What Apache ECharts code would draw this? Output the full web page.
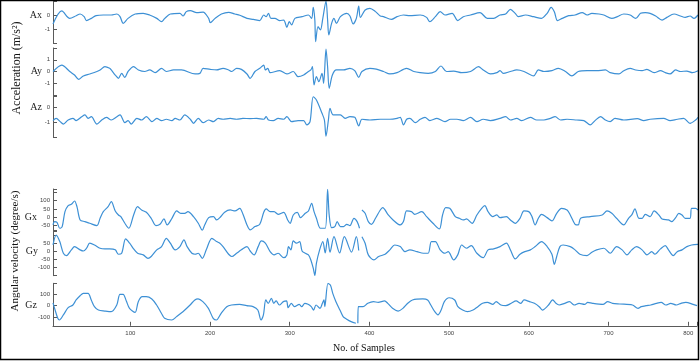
<!DOCTYPE html>
<html><head><meta charset="utf-8">
<script src="https://cdn.jsdelivr.net/npm/echarts@6/dist/echarts.min.js"></script>
<style>html,body{margin:0;padding:0;background:#fff}#c{width:700px;height:361px}</style>
</head><body><div id="c"></div>
<script>
// ---- data (sample index, value) ----
const sampleRange = [3, 811];
const xTickLabels = [100, 200, 300, 400, 500, 600, 700, 800];
const channelNames = ['Ax', 'Ay', 'Az', 'Gx', 'Gy', 'Gz'];
const yRanges = [[-2, 1], [-2, 2], [-2, 0.75], [-80, 170], [-150, 125], [-180, 200]];
const ySteps = [1, 1, 1, 50, 50, 100];
const yLabelled = [[0, -1], [1, 0, -1], [0, -1], [100, 50, 0, -50], [50, 0, -50, -100], [100, 0, -100]];

const ax = [[3,-0.64],[14,0.29],[24,-0.24],[32,-0.05],[37,0.07],[42,-0.12],[45,-0.4],[51,-0.24],[57,-0.05],[66,0],[76,0],[83,0.07],[87,-0.12],[91,-0.6],[97,-0.24],[106,0.07],[116,0.12],[124,0],[133,-0.24],[139,-0.48],[143,-0.24],[150,0.07],[162,0.12],[166,-0.07],[170,0.24],[175,0.31],[183,0.17],[191,0.21],[198,-0.24],[200,-0.55],[206,-0.24],[214,0.07],[223,0.19],[231,0.07],[237,-0.02],[246,-0.24],[254,-0.31],[262,-0.4],[267,0],[270,-0.12],[273,0.12],[276,-0.24],[281,-0.24],[287,-0.4],[292,-0.36],[296,-0.88],[299,-0.48],[302,-0.71],[306,-0.24],[315,-0.12],[323,0],[327,-0.24],[329,0.55],[331,-0.36],[332,-1.9],[335,-0.83],[338,-1.07],[341,-0.24],[345,1.0],[347,-0.36],[348.5,-1.43],[352,-0.6],[355,-0.24],[358,-0.6],[363,-0.12],[371,0.12],[375,-0.07],[379,-0.64],[383,-0.24],[386,0.64],[388,-0.17],[394,0.36],[400,0.48],[407,0.24],[413,-0.07],[417,-0.12],[427,-0.31],[434,-0.12],[442,0],[450,-0.05],[463,0],[471,-0.17],[475,-0.48],[482,-0.12],[488,0.24],[494,0],[503,0.12],[510,-0.4],[517,-0.12],[526,0],[538,0.17],[547,-0.24],[555,-0.24],[563,0],[570,0.07],[576,0.4],[582,0.12],[586,-0.12],[595,0],[605,-0.12],[615,-0.24],[622,0.12],[627,0.55],[631,0.24],[635,-0.4],[641,-0.24],[649,-0.05],[657,0],[666,0.17],[672,0],[678,0.12],[687,0.07],[693,0],[703,-0.24],[710,-0.12],[718,0.07],[726,0],[733,-0.24],[739,0.12],[745,0.17],[751,0.12],[758,-0.07],[766,-0.36],[772,-0.17],[781,0.07],[789,-0.07],[795,-0.17],[801,-0.07],[806,-0.24],[811,0]];

const ay = [[3,0],[14,0.55],[24,0],[30,-0.3],[35,-0.67],[41,-0.38],[49,-0.21],[58,0],[62,0.13],[68,0.41],[74,0.27],[76,0.13],[81,-0.3],[85,-0.58],[89,-0.16],[93,-0.5],[97,0],[104,0.41],[110,0.13],[118,0],[124,0.13],[131,-0.1],[139,0.27],[145,0],[154,0.13],[164,0.13],[181,-0.21],[187,-0.16],[191,0.27],[200,0.18],[208,0.13],[216,0.27],[223,0.13],[227,0],[233,0.27],[239,0.18],[246,-0.21],[250,-0.58],[256,0],[262,0.27],[267,0.55],[269,0.13],[272,0.27],[275,-0.1],[287,0.07],[296,-0.21],[304,0],[310,-0.44],[317,-0.3],[323,0],[326,0.13],[328,0.41],[330,-1.15],[333,-0.44],[336,-0.87],[340,-0.16],[342,-1.0],[345,1.9],[347,0.41],[349,-1.43],[353,-0.3],[358,0.13],[367,0.13],[375,0.27],[381,0.07],[386,-0.5],[390,0],[400,0.27],[408,0.2],[417,0],[425,-0.21],[434,-0.1],[442,0.18],[446,0.27],[455,0],[463,-0.1],[473,-0.16],[482,0],[489,0.47],[496,0],[505,0.04],[515,-0.1],[526,0],[536,0.41],[542,0.13],[551,-0.21],[559,-0.1],[563,0.07],[567,-0.16],[576,0],[584,0.13],[593,0],[605,-0.38],[611,0.13],[618,0],[628,0.07],[636,0.27],[645,0],[653,-0.38],[661,0],[672,0.07],[684,0.07],[695,0.13],[701,-0.1],[712,-0.21],[718,0.07],[726,0.27],[733,0.13],[741,0.07],[747,0.18],[756,-0.1],[764,0.07],[770,-0.1],[776,-0.21],[783,0.13],[789,0],[797,0.04],[804,-0.1],[811,0.07]];

const az = [[3,-0.9],[7,-0.75],[12,-0.97],[16,-1.13],[22,-0.86],[28,-0.75],[32,-0.9],[39,-0.64],[43,-0.52],[47,-0.75],[51,-0.64],[58,-1.13],[64,-0.86],[70,-0.68],[76,-0.86],[83,-0.64],[87,-0.52],[93,-1.04],[97,-0.9],[101,-1.13],[108,-0.75],[114,-0.86],[120,-0.64],[127,-0.97],[133,-0.75],[139,-0.9],[145,-0.81],[152,-0.9],[156,-0.75],[162,-0.86],[168,-0.52],[175,-0.81],[179,-1.08],[185,-0.75],[191,-1.04],[198,-0.86],[204,-0.97],[210,-0.75],[216,-0.81],[225,-0.75],[233,-0.81],[241,-0.75],[250,-0.77],[258,-0.75],[267,-0.81],[270,-0.64],[273,-0.86],[279,-0.9],[285,-0.75],[292,-0.81],[296,-0.64],[302,-0.97],[310,-0.9],[317,-0.9],[321,-1.19],[325,-0.97],[329,0.7],[333,0.48],[340,-0.41],[343,-0.86],[345,-1.95],[348,-0.86],[350,-0.08],[354,-0.52],[363,-0.52],[369,-0.75],[375,-0.64],[381,-0.68],[386,-1.26],[390,-0.81],[400,-0.86],[413,-0.81],[425,-0.81],[434,-0.75],[438,-0.68],[442,-1.19],[446,-0.81],[450,-0.75],[457,-1.04],[463,-0.81],[469,-0.68],[475,-0.9],[484,-0.75],[494,-0.97],[501,-0.81],[509,-0.81],[517,-0.9],[526,-0.68],[534,-0.97],[542,-0.81],[551,-0.9],[563,-0.75],[570,-0.64],[576,-0.86],[584,-0.75],[590,-0.9],[601,-0.68],[609,-0.86],[618,-0.86],[626,-0.75],[632,-0.64],[639,-0.86],[647,-0.81],[659,-0.86],[668,-0.9],[676,-1.19],[682,-0.9],[689,-0.64],[695,-0.86],[701,-0.97],[707,-0.75],[718,-0.86],[735,-0.77],[743,-0.9],[751,-0.81],[768,-0.75],[776,-0.9],[785,-0.81],[793,-0.75],[801,-1.08],[808,-0.86],[811,-0.68]];

const gx = [[3,-46],[5,-26],[8,-30],[11.5,-66],[14.5,-56],[18,34],[22,70],[26,78],[30,98],[33,64],[37,-16],[43,-26],[49,-36],[58,-50],[62,-6],[66,34],[72,64],[76,94],[81,38],[85,14],[88,4],[93,-36],[98,-66],[104,14],[109,64],[114,44],[120,30],[126,-6],[132,-50],[137,-42],[142,-10],[146,-46],[152,-6],[158,38],[163,24],[168,24],[172,34],[179,4],[185,-36],[190,-78],[193,-46],[198,-2],[204,4],[208,-16],[212,-2],[218,30],[225,44],[231,38],[237,54],[241,18],[246,-46],[250,-76],[256,-56],[262,-42],[267,30],[270,50],[275,34],[280,34],[285,18],[292,30],[297,-16],[300,-36],[304,14],[309,30],[313,-2],[319,24],[323,38],[327,84],[330,34],[333,-6],[338,-66],[344,-66],[347,168],[349,14],[352,-62],[356,-56],[359,-26],[363,-56],[367,-56],[371,-42],[375,-50],[380,-6],[384,-26],[387,-66],[388.5,null],[390,44],[394,24],[398,-26],[402,-42],[407,-6],[413,44],[416,58],[423,14],[429,-16],[438,-46],[442,-26],[446,38],[452,34],[456,18],[465,34],[471,4],[479,-36],[487,-70],[491,14],[495,58],[500,54],[507,4],[512,-6],[517,-16],[521,-10],[528,-36],[534,14],[540,54],[544,70],[548,34],[554,4],[559,14],[563,-2],[571,4],[576,-16],[582,-36],[588,-6],[593,38],[599,34],[603,4],[607,-46],[611,-6],[615,18],[622,-2],[628,-22],[634,24],[640,54],[647,44],[651,14],[657,-42],[661,-46],[664,-6],[676,4],[691,14],[697,38],[703,24],[709,-6],[718,-46],[724,-6],[728,14],[732,50],[737,-6],[741,-6],[745,18],[751,4],[756,38],[762,14],[766,-10],[774,-16],[778,-26],[783,-2],[787,24],[791,14],[795,-6],[801,-6],[803,54],[808,54],[811,44]];

const gy = [[3,39],[7,100],[11.5,60],[16,-12],[20,-26],[26,9],[30,29],[37,9],[41,2],[45,19],[49,50],[55,39],[62,19],[68,15],[74,15],[81,9],[85,-18],[89,-12],[94,76],[99,50],[104,15],[109,-12],[116,-22],[122,-43],[126,-32],[133,9],[139,29],[145,80],[150,50],[156,9],[162,29],[167,70],[171,29],[177,-12],[181,-18],[185,-12],[190,-43],[195,9],[202,80],[208,60],[212,50],[216,29],[223,-18],[227,-32],[233,-12],[239,9],[246,29],[250,2],[255,-22],[260,29],[264,64],[269,50],[275,-2],[280,-22],[285,-12],[292,-39],[296,-22],[298,29],[301,9],[304,64],[308,50],[312,60],[315,2],[319,-12],[323,-22],[326,-53],[329,-104],[331,-148],[333,-73],[337,9],[341,60],[344,-10],[347,80],[350,-5],[355,90],[362,-10],[368,90],[377,-5],[383,90],[386,5],[388,null],[390,90],[394,50],[398,-22],[405,-53],[411,-32],[419,-18],[425,9],[431,39],[438,29],[444,-2],[450,9],[459,-2],[467,-12],[473,-12],[477,60],[482,60],[488,9],[494,-12],[498,-2],[505,-53],[510,-22],[515,39],[521,19],[527,35],[534,-12],[542,-39],[548,9],[555,15],[563,29],[571,50],[576,9],[582,-47],[588,-18],[594,-2],[601,9],[607,29],[615,60],[622,29],[628,-18],[631,-80],[634,-32],[638,29],[642,39],[651,29],[657,9],[663,-18],[672,-26],[678,-6],[684,9],[693,19],[701,-12],[709,29],[716,9],[722,-22],[728,9],[734,29],[741,9],[747,-22],[753,-2],[757,-18],[764,15],[770,35],[774,9],[780,-26],[785,-2],[791,9],[797,29],[803,39],[811,43]];

const gz = [[3,25],[5,-24],[9,-113],[11,-128],[16,-83],[22,-18],[28,6],[32,51],[37,89],[41,110],[47,110],[51,51],[55,-9],[60,-39],[68,-48],[76,-54],[83,6],[87,101],[91,101],[95,42],[99,-24],[106,-60],[110,36],[115,80],[120,80],[127,60],[133,6],[139,-68],[143,-113],[152,-128],[158,-98],[166,-54],[175,6],[181,51],[185,60],[191,36],[198,-24],[204,-113],[208,-128],[214,-68],[221,-9],[227,6],[237,12],[246,0],[254,-9],[260,-39],[264,-128],[267,-83],[270,51],[273,21],[277,65],[280,21],[283,42],[287,6],[292,36],[296,42],[298,-18],[302,21],[306,-9],[312,12],[315,-9],[319,21],[323,12],[327,-9],[330,-39],[333,6],[338,-24],[341,21],[343,51],[344,-9],[348,199],[351,185],[354,110],[358,36],[363,-39],[367,-98],[371,-119],[377,-143],[383,-157],[384.5,null],[385.5,-157],[386,-9],[392,-9],[398,21],[405,36],[411,30],[419,42],[423,21],[429,-24],[436,-48],[442,-24],[448,21],[454,51],[467,60],[473,51],[477,6],[482,-54],[486,-83],[490,-39],[494,36],[500,71],[507,51],[511,-9],[517,-39],[523,-54],[530,-39],[536,-9],[542,21],[548,30],[555,12],[559,36],[565,6],[571,0],[578,21],[584,42],[590,21],[594,51],[601,36],[607,21],[613,-9],[617,-39],[624,0],[630,51],[634,21],[638,6],[645,21],[651,36],[657,6],[663,21],[670,12],[674,30],[680,21],[693,12],[699,36],[705,21],[714,15],[730,6],[737,-24],[741,-9],[747,0],[753,6],[760,21],[766,30],[772,6],[778,21],[785,6],[791,21],[797,30],[806,12],[811,0]];

const channels = [ax, ay, az, gx, gy, gz];

// ---- layout ----
const gridTops = [1, 48, 96, 189, 231, 283.3];
const gridHeights = [42, 47, 41, 41.6, 44.7, 42.5];
const lineColor = '#3d90d5';
const axisColor = '#5a5a5a';
const serif = '"Liberation Serif", "Times New Roman", serif';
const sans = '"Liberation Sans", Arial, sans-serif';

const chart = echarts.init(document.getElementById('c'), null, {renderer: 'canvas'});

const grids = [], xAxes = [], yAxes = [], series = [];
channels.forEach((d, i) => {
  grids.push({left: 53, right: 2, top: gridTops[i], height: gridHeights[i], containLabel: false});
  const last = i === channels.length - 1;
  xAxes.push({
    gridIndex: i, type: 'value', min: sampleRange[0], max: sampleRange[1],
    minInterval: 100, maxInterval: 100,
    show: last,
    axisLine: {show: true, onZero: false, lineStyle: {color: axisColor, width: 1}},
    axisTick: {show: true, inside: true, length: 4, lineStyle: {color: axisColor}},
    axisLabel: {show: true, fontSize: 6, color: '#444', margin: 5, fontFamily: sans,
      formatter: v => xTickLabels.includes(v) ? String(v) : ''},
    splitLine: {show: false}
  });
  const lab = yLabelled[i];
  yAxes.push({
    gridIndex: i, type: 'value', min: yRanges[i][0], max: yRanges[i][1],
    minInterval: ySteps[i], maxInterval: ySteps[i],
    axisLine: {show: true, onZero: false, lineStyle: {color: axisColor, width: 1}},
    axisTick: {show: true, inside: true, length: 4, lineStyle: {color: axisColor}},
    axisLabel: {fontSize: 6, color: '#444', margin: 3, fontFamily: sans,
      formatter: v => lab.includes(v) ? String(v) : ''},
    splitLine: {show: false}
  });
  series.push({
    type: 'line', xAxisIndex: i, yAxisIndex: i, data: d,
    showSymbol: false, symbol: 'none', smooth: 0.3, connectNulls: false,
    lineStyle: {color: lineColor, width: 1.2}, animation: false
  });
});

chart.setOption({
  animation: false,
  backgroundColor: '#fff',
  grid: grids, xAxis: xAxes, yAxis: yAxes, series: series
});

const labelX = [42, 42, 42, 37, 38, 37];
const graphics = [
  {type: 'rect', shape: {x: 0.5, y: 0.5, width: 698, height: 359}, style: {fill: 'none', stroke: '#000', lineWidth: 1.5}, z: 100},
  {type: 'text', x: 17, y: 68, rotation: Math.PI / 2,
    style: {text: 'Acceleration (m/s²)', font: '12px ' + serif, fill: '#111', align: 'center', verticalAlign: 'middle'}},
  {type: 'text', x: 15, y: 251, rotation: Math.PI / 2,
    style: {text: 'Angular velocity (degree/s)', font: '11px ' + serif, fill: '#111', align: 'center', verticalAlign: 'middle'}},
  {type: 'text', x: 364, y: 348,
    style: {text: 'No. of Samples', font: '10px ' + serif, fill: '#111', align: 'center', verticalAlign: 'middle'}}
];
channelNames.forEach((name, i) => {
  const yp = chart.convertToPixel({yAxisIndex: i}, 0);
  graphics.push({type: 'text', x: labelX[i], y: yp,
    style: {text: name, font: '10px ' + serif, fill: '#222', align: 'right', verticalAlign: 'middle'}});
});
chart.setOption({graphic: graphics});
</script>
</body></html>
